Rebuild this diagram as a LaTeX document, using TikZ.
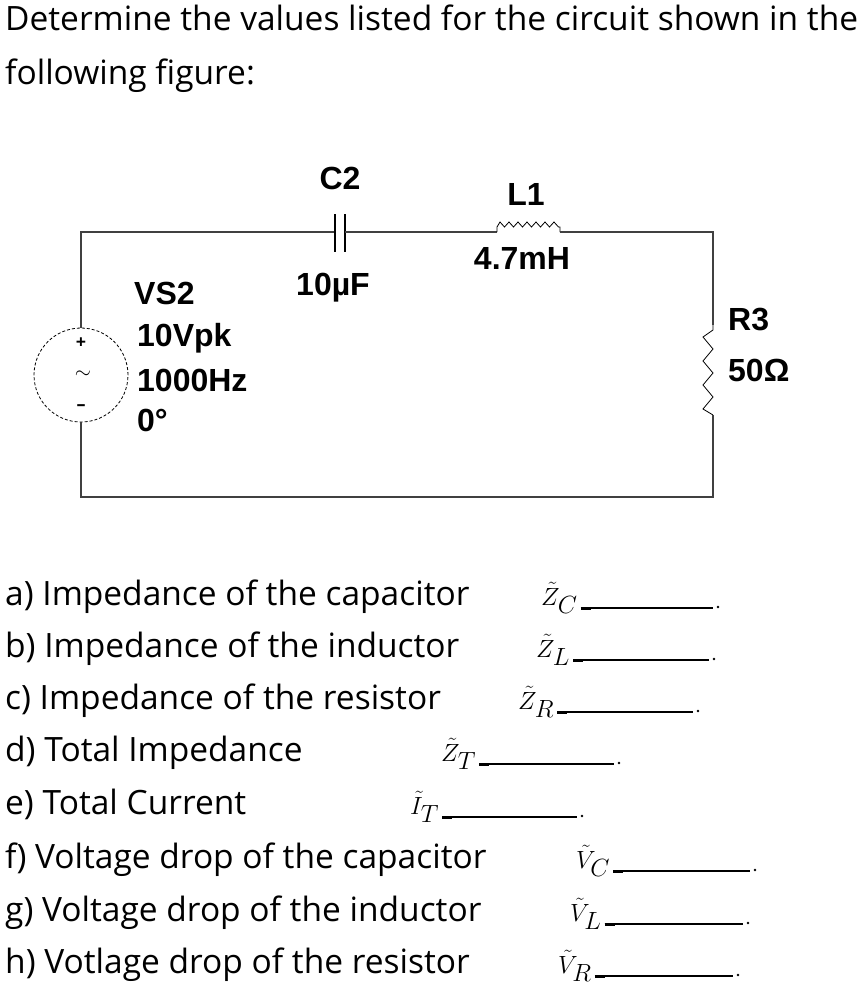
\documentclass[tikz,border=0pt]{standalone}
\usepackage{fontspec}
\setmainfont{Open Sans}
\newfontfamily\arl{Liberation Sans}
\begin{document}
\begin{tikzpicture}[x=1pt,y=-1pt,
  txt/.style={anchor=base west,inner sep=0,font=\fontsize{33.5}{33.5}\selectfont},
  lbl/.style={inner sep=0,font=\arl\bfseries\fontsize{32}{32}\selectfont},
  wire/.style={line width=1.2pt,black!75},
  sym/.style={anchor=base west,inner sep=0,font=\fontsize{34}{34}\selectfont},
  blank/.style={line width=1.2pt}]
\useasboundingbox (0,0) rectangle (866,986);
\node[txt] (t1) at (5,30) {Determine the values listed for the circuit shown in the};
\node[txt] (t2) at (5,84) {following figure:};
% circuit
\coordinate (tl) at (81,232); \coordinate (tr) at (713,232);
\coordinate (bl) at (81,497); \coordinate (br) at (713,497);
\node[draw,densely dashed,circle,minimum size=94,inner sep=0,line width=0.8pt] (vs) at (81,375) {};
\node[font=\bfseries\fontsize{18}{18}\selectfont] (pl) at (81,343) {+};
\node[font=\fontsize{20}{20}\selectfont] (tw) at (83,375) {$\sim$};
\node[font=\bfseries\fontsize{18}{18}\selectfont] (mn) at (81,408) {--};
\coordinate (c1) at (335,232); \coordinate (c2) at (345,232);
\draw[wire] (vs.north) -- (tl) -- (c1);
\draw[line width=2.5pt] (335,214) -- (335,252) (345,214) -- (345,252);
\coordinate (l1) at (497,232); \coordinate (l2) at (560,232);
\draw[wire] (c2) -- (l1);
\draw[line width=0.8pt] (l1) -- (497,227) \foreach \i in {0,...,6}{ -- (500+\i*9,222) -- (504.5+\i*9,227)} -- (560,227) -- (l2);
\coordinate (r1) at (713,325); \coordinate (r2) at (713,415);
\draw[wire] (l2) -- (tr) -- (r1);
\draw[line width=0.8pt] (r1) -- (713,330) -- (703,337) -- (713,349) -- (703,361) -- (713,373) -- (703,385) -- (713,397) -- (703,409) -- (713,415) -- (r2);
\draw[wire] (r2) -- (br) -- (bl) -- (vs.south);
\node[lbl] (C2) at (340,178) {C2};
\node[lbl] (L1) at (526,194) {L1};
\node[lbl] (Lv) at (522,258) {4.7mH};
\node[lbl] (Cv) at (333,288) {10µF};
\node[lbl,anchor=west] (VS) at (134,293) {VS2};
\node[lbl,anchor=west] (V1) at (137,338) {10Vpk};
\node[lbl,anchor=west] (V2) at (137,380) {1000Hz};
\node[lbl,anchor=west] (V3) at (137,420) {0°};
\node[lbl,anchor=west] (R3) at (728,320) {R3};
\node[lbl,anchor=west] (Rv) at (728,370) {50Ω};
% questions
\foreach \y/\t/\n in {605/a) Impedance of the capacitor/qa,657/b) Impedance of the inductor/qb,709/c) Impedance of the resistor/qc,761/d) Total Impedance/qd,814/e) Total Current/qe,868/f) Voltage drop of the capacitor/qf,921/g) Voltage drop of the inductor/qg,973/h) Votlage drop of the resistor/qh}
  \node[txt] (\n) at (5,\y) {\t};
\foreach \x/\y/\s/\e/\n in {541/605/\tilde{Z}_C/713/za,536/657/\tilde{Z}_L/709/zb,518/709/\tilde{Z}_R/693/zc,441/761/\tilde{Z}_T/614/zd,410/814/\tilde{I}_T/577/ze,576/868/\tilde{V}_C/750/zf,570/921/\tilde{V}_L/743/zg,558/973/\tilde{V}_R/733/zh}{
  \node[sym] (\n) at (\x,\y) {$\s$};
  \draw[blank] (\n.base east) ++(3,3) coordinate (\n s) -- (\e,\y+3) coordinate (\n e);
  \draw[line width=3pt] (\n s) -- ++(10,0);
  \fill (\e+5,\y+2) circle (1.3);
}
\end{tikzpicture}
\end{document}
